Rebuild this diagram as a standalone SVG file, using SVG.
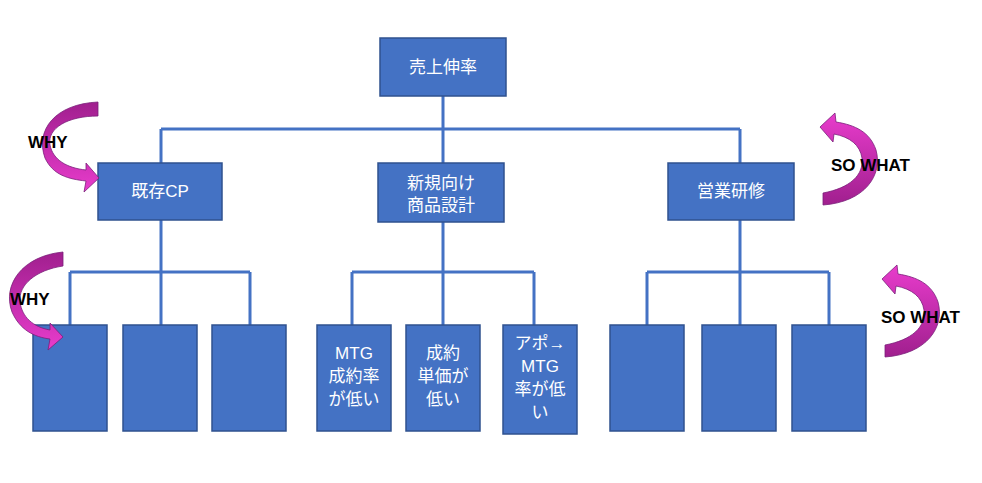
<svg xmlns="http://www.w3.org/2000/svg" width="982" height="483" viewBox="0 0 982 483">
<style>
.b{fill:#4472C4;stroke:#2F528F;stroke-width:1.5}
.t{fill:#fff;font-family:"Liberation Sans","Noto Sans CJK JP",sans-serif;font-size:17px;text-anchor:middle}
.c{fill:none;stroke:#4472C4;stroke-width:3}
.k{font-family:"Liberation Sans",sans-serif;font-weight:bold;font-size:17px;fill:#000}
.a{fill:url(#g);stroke:#7a1f7a;stroke-width:0.8}
</style>
<defs><linearGradient id="g" x1="0" y1="0" x2="0" y2="1"><stop offset="0" stop-color="#a01f8e"/><stop offset="1" stop-color="#e83ccc"/></linearGradient>
<linearGradient id="h" x1="0" y1="1" x2="0" y2="0"><stop offset="0" stop-color="#a01f8e"/><stop offset="1" stop-color="#e83ccc"/></linearGradient></defs>
<rect width="982" height="483" fill="#fff"/>
<g id="connectors">
<path class="c" d="M443,96V129M161,129H740M161,129V163M443,129V163M740,129V163"/>
<path class="c" d="M161,220V272M70,272H250M70,272V325M161,272V325M250,272V325"/>
<path class="c" d="M443,222V272M352,272H534M352,272V325M443,272V325M534,272V325"/>
<path class="c" d="M740,220V272M647,272H829M647,272V325M740,272V325M829,272V325"/>
</g>
<g id="root"><rect class="b" x="380" y="38" width="126" height="58"/><text class="t" x="443" y="73">売上伸率</text></g>
<g id="n1"><rect class="b" x="98" y="163" width="124" height="57"/><text class="t" x="160" y="197">既存CP</text></g>
<g id="n2"><rect class="b" x="378" y="163" width="126" height="59"/><text class="t" x="441" y="189">新規向け</text><text class="t" x="441" y="211">商品設計</text></g>
<g id="n3"><rect class="b" x="668" y="163" width="126" height="57"/><text class="t" x="731" y="197">営業研修</text></g>
<g id="l1"><rect class="b" x="33" y="325" width="74" height="106"/></g>
<g id="l2"><rect class="b" x="123" y="325" width="74" height="106"/></g>
<g id="l3"><rect class="b" x="212" y="325" width="74" height="106"/></g>
<g id="l4"><rect class="b" x="317" y="325" width="74" height="106"/><text class="t" x="354" y="359">MTG</text><text class="t" x="354" y="382">成約率</text><text class="t" x="354" y="405">が低い</text></g>
<g id="l5"><rect class="b" x="406" y="325" width="74" height="106"/><text class="t" x="443" y="359">成約</text><text class="t" x="443" y="382">単価が</text><text class="t" x="443" y="405">低い</text></g>
<g id="l6"><rect class="b" x="503" y="325" width="74" height="109"/><text class="t" x="540" y="349">アポ→</text><text class="t" x="540" y="372">MTG</text><text class="t" x="540" y="395">率が低</text><text class="t" x="540" y="418">い</text></g>
<g id="l7"><rect class="b" x="610" y="325" width="74" height="106"/></g>
<g id="l8"><rect class="b" x="702" y="325" width="74" height="106"/></g>
<g id="l9"><rect class="b" x="792" y="325" width="74" height="106"/></g>
<g id="why1"><path class="a" d="M98,102C55,104 35,130 45,158C53,175 68,179 86,181L84,192L99,178L86,163L86,170C67,168 53,160 50,145C47,128 68,116 98,116Z"/><text class="k" x="28" y="148">WHY</text></g>
<g id="why2"><path class="a" d="M63,252C22,256 2,285 12,312C20,330 34,337 50,339L48,350L63,337L50,323L50,330C33,327 22,317 20,302C18,285 36,270 63,266Z"/><text class="k" x="10" y="305">WHY</text></g>
<g id="sw1"><path class="a" d="M823,205C865,202 883,175 876,150C870,132 855,125 836,122L835,113L820,127L833,142L834,134C850,137 860,145 862,158C864,175 850,188 823,193Z" style="fill:url(#h)"/><text class="k" x="831" y="171">SO WHAT</text></g>
<g id="sw2"><path class="a" d="M885,357C927,354 945,327 938,302C932,284 917,277 898,274L897,265L882,279L895,294L896,286C912,289 922,297 924,310C926,327 912,340 885,345Z" style="fill:url(#h)"/><text class="k" x="881" y="323">SO WHAT</text></g>
</svg>
